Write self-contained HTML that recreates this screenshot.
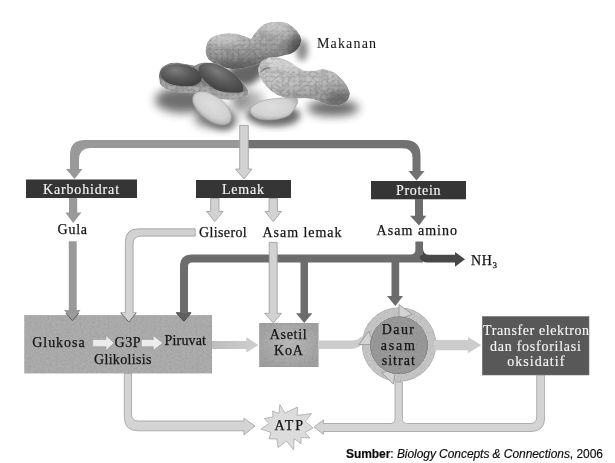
<!DOCTYPE html>
<html><head><meta charset="utf-8">
<style>
html,body{margin:0;padding:0;background:#fff;width:615px;height:463px;overflow:hidden}
svg{display:block;filter:blur(0.3px)}
.t{font-family:"Liberation Serif",serif;font-size:14px;fill:#141414;stroke:#141414;stroke-width:0.25}
.w{font-family:"Liberation Serif",serif;font-size:14px;fill:#f4f4f4;stroke:#f4f4f4;stroke-width:0.15}
.cap{font-family:"Liberation Sans",sans-serif;font-size:12px;fill:#0a0a0a;stroke:#0a0a0a;stroke-width:0.15}
</style></head>
<body>
<svg width="615" height="463" viewBox="0 0 615 463">
<defs>
  <filter id="b5" x="-50%" y="-50%" width="200%" height="200%"><feGaussianBlur stdDeviation="5"/></filter>
  <filter id="b3" x="-50%" y="-50%" width="200%" height="200%"><feGaussianBlur stdDeviation="3"/></filter>
  <filter id="b2" x="-50%" y="-50%" width="200%" height="200%"><feGaussianBlur stdDeviation="2"/></filter>
  <filter id="b1" x="-20%" y="-20%" width="140%" height="140%"><feGaussianBlur stdDeviation="1"/></filter>
  <filter id="b06" x="-20%" y="-20%" width="140%" height="140%"><feGaussianBlur stdDeviation="0.6"/></filter>
  <filter id="tex" x="0" y="0" width="100%" height="100%" color-interpolation-filters="sRGB">
    <feTurbulence type="fractalNoise" baseFrequency="0.5" numOctaves="2" seed="3" result="n"/>
    <feColorMatrix in="n" type="matrix" values="0.33 0.33 0.33 0 0  0.33 0.33 0.33 0 0  0.33 0.33 0.33 0 0  0 0 0 0 1" result="g"/>
    <feComponentTransfer in="g" result="m"><feFuncR type="linear" slope="0.25" intercept="0.85"/><feFuncG type="linear" slope="0.25" intercept="0.85"/><feFuncB type="linear" slope="0.25" intercept="0.85"/></feComponentTransfer>
    <feBlend in="SourceGraphic" in2="m" mode="multiply" result="bl"/>
    <feComposite in="bl" in2="SourceGraphic" operator="in"/>
  </filter>
  <filter id="ptex" x="-10%" y="-10%" width="120%" height="120%" color-interpolation-filters="sRGB">
    <feTurbulence type="turbulence" baseFrequency="0.18 0.22" numOctaves="2" seed="11" result="n"/>
    <feColorMatrix in="n" type="matrix" values="0.33 0.33 0.33 0 0  0.33 0.33 0.33 0 0  0.33 0.33 0.33 0 0  0 0 0 0 1" result="g"/>
    <feComponentTransfer in="g" result="m"><feFuncR type="table" tableValues="0.78 0.97 1.06 1.1"/><feFuncG type="table" tableValues="0.78 0.97 1.06 1.1"/><feFuncB type="table" tableValues="0.78 0.97 1.06 1.1"/></feComponentTransfer>
    <feGaussianBlur in="m" stdDeviation="0.55" result="mb"/>
    <feBlend in="SourceGraphic" in2="mb" mode="multiply" result="bl"/>
    <feComposite in="bl" in2="SourceGraphic" operator="in" result="c"/>
  </filter>
</defs>

<g id="peanuts">
  <defs>
    <linearGradient id="bpg" x1="0" y1="0" x2="0.15" y2="1">
      <stop offset="0" stop-color="#cacaca"/><stop offset="0.5" stop-color="#b0b0b0"/><stop offset="1" stop-color="#767676"/>
    </linearGradient>
    <linearGradient id="rpg" x1="0" y1="0" x2="0.3" y2="1">
      <stop offset="0" stop-color="#d6d6d6"/><stop offset="0.6" stop-color="#c2c2c2"/><stop offset="1" stop-color="#999999"/>
    </linearGradient>
    <radialGradient id="kg" cx="0.35" cy="0.3" r="0.75">
      <stop offset="0" stop-color="#7c7c7c"/><stop offset="0.5" stop-color="#595959"/><stop offset="1" stop-color="#3e3e3e"/>
    </radialGradient>
  </defs>
  <defs><radialGradient id="kl" cx="0.45" cy="0.4" r="0.6"><stop offset="0" stop-color="#dedede"/><stop offset="0.7" stop-color="#d2d2d2"/><stop offset="1" stop-color="#b0b0b0"/></radialGradient></defs>
  <!-- soft shadows -->
  <ellipse cx="273" cy="115" rx="27" ry="10" fill="#505050" filter="url(#b3)" opacity="0.8"/>
  <ellipse cx="214" cy="113" rx="23" ry="12" fill="#505050" filter="url(#b3)" opacity="0.75" transform="rotate(37 214 113)"/>
  <ellipse cx="240" cy="100" rx="9" ry="12" fill="#7a7a7a" filter="url(#b5)" opacity="0.7"/>
  <ellipse cx="183" cy="100" rx="28" ry="13" fill="#606060" filter="url(#b5)" opacity="0.9"/>
  <ellipse cx="216" cy="119" rx="22" ry="9" fill="#707070" filter="url(#b5)" opacity="0.8"/>
  <path d="M228 66 Q250 64 262 56 L270 62 Q262 80 248 86 L232 84Z" fill="#555" filter="url(#b3)" opacity="0.9"/>
  <ellipse cx="302" cy="50" rx="6" ry="11" fill="#707070" filter="url(#b3)" opacity="0.8"/>
  <ellipse cx="333" cy="108" rx="26" ry="8" fill="#5a5a5a" filter="url(#b5)" opacity="0.9"/>
  <ellipse cx="276" cy="118" rx="22" ry="7" fill="#6a6a6a" filter="url(#b5)" opacity="0.8"/>
  <ellipse cx="250" cy="100" rx="14" ry="10" fill="#888" filter="url(#b5)" opacity="0.6"/>
  <!-- back peanut -->
  <path d="M205.7 50 Q206 41 212 37 Q222 32 235 33.5 Q246 36 251 39 Q256 30 264 24 Q275 20 287 23 Q299 29 301.5 40 Q300 50 290 54 Q276 57 262 62 Q250 68 234 69.2 Q216 67 208 59 Q205 54 205.7 50Z" fill="url(#bpg)" filter="url(#ptex)"/>
  <clipPath id="bpc"><path d="M205.7 50 Q206 41 212 37 Q222 32 235 33.5 Q246 36 251 39 Q256 30 264 24 Q275 20 287 23 Q299 29 301.5 40 Q300 50 290 54 Q276 57 262 62 Q250 68 234 69.2 Q216 67 208 59 Q205 54 205.7 50Z"/></clipPath>
  <g clip-path="url(#bpc)">
    <ellipse cx="300" cy="50" rx="12" ry="16" fill="#444" filter="url(#b5)" opacity="0.85"/>
    <ellipse cx="240" cy="70" rx="30" ry="8" fill="#555" filter="url(#b3)" opacity="0.6"/>
    <ellipse cx="225" cy="38" rx="16" ry="6" fill="#ddd" filter="url(#b3)" opacity="0.5"/>
    <ellipse cx="275" cy="27" rx="14" ry="5" fill="#ddd" filter="url(#b3)" opacity="0.5"/>
  </g>
  <!-- right whole peanut -->
  <path d="M258 70 Q259 62 264.3 59.7 Q270 56 277 57.2 Q286 59 291 62.5 Q298 68 303.7 70.6 Q312 71 316.2 70.6 Q322 68 327 69.7 Q336 72 339.4 76.8 Q347 83 350 93 Q349 101 343 103.7 Q337 106 330.5 105.5 Q322 103 316 100 Q310 98 303.7 98.3 Q295 99 289 98.3 Q281 97 276.8 94.7 Q270 91 266 85.8 Q260 80 258 70Z" fill="url(#rpg)" filter="url(#ptex)"/>
  <clipPath id="rpc"><path d="M258 70 Q259 62 264.3 59.7 Q270 56 277 57.2 Q286 59 291 62.5 Q298 68 303.7 70.6 Q312 71 316.2 70.6 Q322 68 327 69.7 Q336 72 339.4 76.8 Q347 83 350 93 Q349 101 343 103.7 Q337 106 330.5 105.5 Q322 103 316 100 Q310 98 303.7 98.3 Q295 99 289 98.3 Q281 97 276.8 94.7 Q270 91 266 85.8 Q260 80 258 70Z"/></clipPath>
  <g clip-path="url(#rpc)">
    <ellipse cx="340" cy="100" rx="14" ry="8" fill="#555" filter="url(#b3)" opacity="0.6"/>
    <ellipse cx="285" cy="64" rx="18" ry="5" fill="#e6e6e6" filter="url(#b3)" opacity="0.5"/>
  </g>
  <path d="M261 72 Q265 67 270 68" fill="none" stroke="#777" stroke-width="1.2" filter="url(#b06)"/>
  <!-- open shell -->
  <path d="M159 74.7 Q160 68 164.3 65.6 Q170 62 176.8 62.6 Q186 64 194.7 65.6 Q199 63 203.7 62.6 Q212 62 218 63.8 Q225 67 230.5 71.9 Q240 79 244.8 85.3 Q249 90 248.4 93.5 Q246 98 239.4 98.8 Q230 99 221.6 98 Q212 95 207.2 90.8 Q200 90 194.7 91.7 Q185 92 176.8 90.8 Q168 89 162.5 85.4 Q158 80 159 74.7Z" fill="#8e8e8e" filter="url(#ptex)"/>
  <ellipse cx="181" cy="75.5" rx="21" ry="11" fill="url(#kg)" transform="rotate(8 181 75.5)"/>
  <ellipse cx="221" cy="79" rx="25" ry="11.5" fill="url(#kg)" transform="rotate(30 221 79)"/>
  <path d="M160 80 Q172 88 192 86.5 Q202 85 208 87 Q220 94 240 93 Q246 92 248 90 Q249 96 242 98.8 Q230 100 221.6 99 Q212 96 207.2 91.8 Q200 91 194.7 92.2 Q185 93 176.8 91.8 Q166 90 161.5 85.4 Q159 83 160 80Z" fill="#adadad" stroke="#7a7a7a" stroke-width="0.5" filter="url(#ptex)"/>
  <!-- loose kernels -->
  <ellipse cx="212" cy="108.3" rx="22.5" ry="12" fill="url(#kl)" stroke="#a0a0a0" stroke-width="0.6" transform="rotate(37 212 108.3)" filter="url(#b06)"/>
  <path d="M250.5 108.5 Q257 101 268 99.5 Q282 97.5 294.7 97.5 Q299 99 297.4 103 Q294 111 289 115.5 Q280 120 268 120 Q257 120 252.6 115.4 Q249 112 250.5 108.5Z" fill="url(#kl)" stroke="#a0a0a0" stroke-width="0.6" filter="url(#b06)"/>
</g>

<text class="t" x="317" y="48" letter-spacing="1.15" style="stroke-width:0.05">Makanan</text>
<path d="M74.5 179 L66 169 L70 169 L70 155 Q70 140 85 140 L241 140 L241 148 L91 148 Q79 148 79 160 L79 169 L82.5 169 Z" fill="#999999"/>
<path d="M247 140 L405 140 Q420.5 140 420.5 155.5 L420.5 171 L424.5 171 L416.5 180.5 L408.5 171 L412.5 171 L412.5 158 Q412.5 148.2 402.5 148.2 L247 148.2 Z" fill="#727272"/>
<path d="M239.7 125.4 L248.3 125.4 L248.3 169 L252 169 L244.0 179 L235.5 169 L239.7 169 Z" fill="#d2d2d2" stroke="#9a9a9a" stroke-width="0.8" stroke-linejoin="round"/>
<rect x="26" y="179.5" width="111" height="18.5" fill="#353535"/>
<rect x="196" y="180" width="95" height="18" fill="#353535"/>
<rect x="371" y="181" width="95" height="18.3" fill="#353535"/>
<text class="w" x="43" y="193.5" letter-spacing="0.84">Karbohidrat</text>
<text class="w" x="222" y="194" letter-spacing="0.78">Lemak</text>
<text class="w" x="396" y="194.5" letter-spacing="0.68">Protein</text>
<path d="M69 198 L77.2 198 L77.2 212.4 L81.5 212.4 L73.1 223 L65.4 212.4 L69 212.4 Z" fill="#999999"/>
<path d="M210.7 198.5 L219 198.5 L219 211.5 L223 211.5 L214.85 221.6 L206.5 211.5 L210.7 211.5 Z" fill="#d2d2d2" stroke="#9a9a9a" stroke-width="0.8" stroke-linejoin="round"/>
<path d="M269 198.5 L277.5 198.5 L277.5 211.5 L281.5 211.5 L273.25 221.6 L265 211.5 L269 211.5 Z" fill="#d2d2d2" stroke="#9a9a9a" stroke-width="0.8" stroke-linejoin="round"/>
<path d="M415 199 L423 199 L423 215.7 L426.3 215.7 L419.0 225.5 L410 215.7 L415 215.7 Z" fill="#6c6c6c"/>
<text class="t" x="57.6" y="233.5" letter-spacing="0.73">Gula</text>
<text class="t" x="199" y="236.8" letter-spacing="0.37">Gliserol</text>
<text class="t" x="262.5" y="236.8" letter-spacing="0.96">Asam lemak</text>
<text class="t" x="376.6" y="234.8" letter-spacing="1.03">Asam amino</text>
<path d="M68.8 241.3 L76.7 241.3 L76.7 310 L80.5 310 L72.75 320.5 L64 310 L68.8 310 Z" fill="#999999"/>
<path d="M195.2 228.8 L195.2 236.1 L141 236.1 Q133.1 236.1 133.1 244 L133.1 312.7 L136.3 312.7 L128.5 322.8 L120.6 312.7 L125.4 312.7 L125.4 242 Q125.4 228.8 138.6 228.8 Z" fill="#d2d2d2" stroke="#9a9a9a" stroke-width="0.8"/>
<path d="M183.8 321.5 L175.6 312 L180 312 L180 266.5 Q180 254.6 192 254.6 L410.4 254.6 Q415.4 254.6 415.4 249.6 L415.4 241.5 L423 241.5 L423 262.5 L192 262.5 Q188 262.5 188 266.5 L188 312 L191.6 312 Z" fill="#6c6c6c"/>
<path d="M300.5 262 L308 262 L308 313.3 L312.3 313.3 L304.25 323 L296 313.3 L300.5 313.3 Z" fill="#6c6c6c"/>
<path d="M391.5 262 L399.2 262 L399.2 296 L403 296 L395.35 306 L387 296 L391.5 296 Z" fill="#6c6c6c"/>
<path d="M423 248.5 Q423 254.8 429.5 254.8 L455 254.8 L455 252 L465 259.3 L455 266.7 L455 262.6 L428 262.6 Q420.5 262.6 419.5 256 L423 254.8 Z" fill="#474747"/>
<text class="t" x="471" y="264.5" letter-spacing="0.6">NH<tspan font-size="9" dy="3.5">3</tspan></text>
<path d="M269.2 242.4 L277.2 242.4 L277.2 313.3 L281.5 313.3 L273.2 323 L264.7 313.3 L269.2 313.3 Z" fill="#d2d2d2" stroke="#9a9a9a" stroke-width="0.8" stroke-linejoin="round"/>
<rect x="24.5" y="315.2" width="187.5" height="58" fill="#aeaeae" stroke="#9a9a9a" stroke-width="0.6" filter="url(#tex)"/>
<path d="M65.8 313 L72.3 320.7 L78.8 313" fill="#9c9c9c" stroke="#5a5a5a" stroke-width="1"/>
<path d="M121 313 L128.8 322 L136 313" fill="#d2d2d2" stroke="#6a6a6a" stroke-width="1"/>
<path d="M176.5 313 L183.8 321.3 L191 313" fill="#606060" stroke="#4a4a4a" stroke-width="1"/>
<text class="t" x="32.2" y="346.6" letter-spacing="0.97">Glukosa</text>
<path d="M92.7 339.5 L106 339.5 L106 335.5 L114 343 L106 350.5 L106 346.7 L92.7 346.7 Z" fill="#ececec" stroke="#999" stroke-width="0.6"/>
<text class="t" x="114.5" y="346.6" letter-spacing="0.6">G3P</text>
<path d="M141.3 339.5 L153.3 339.5 L153.3 335.5 L162.7 343 L153.3 350.5 L153.3 346.7 L141.3 346.7 Z" fill="#ececec" stroke="#999" stroke-width="0.6"/>
<text class="t" x="164.6" y="345.4" letter-spacing="0.16">Piruvat</text>
<text class="t" x="94" y="364.4" letter-spacing="0.32">Glikolisis</text>
<defs><linearGradient id="g1" x1="0" x2="1"><stop offset="0" stop-color="#bdbdbd"/><stop offset="1" stop-color="#cfcfcf"/></linearGradient></defs>
<path d="M212 341 L246.3 341 L246.3 337.2 L258.5 345 L246.3 352.5 L246.3 349 L212 349 Z" fill="url(#g1)"/>
<defs><radialGradient id="acg" cx="0.5" cy="0.45" r="0.6"><stop offset="0" stop-color="#bcbcbc"/><stop offset="1" stop-color="#a2a2a2"/></radialGradient></defs>
<rect x="259.3" y="323" width="59" height="44" fill="url(#acg)" stroke="#9a9a9a" stroke-width="0.6" filter="url(#tex)"/>
<path d="M266 323 L281 323 L273.5 322.8 Z" fill="#d2d2d2"/>
<path d="M264.5 322.8 L282 322.8 L273.5 322.8 Z" fill="#d2d2d2"/>
<text class="t" x="269.7" y="339" letter-spacing="0.71">Asetil</text>
<text class="t" x="274" y="355" letter-spacing="0.79">KoA</text>
<path d="M318 340.5 L352 340.5 Q358 340.5 362 336 L366 340 Q360 349 350 349 L318 349 Z" fill="#cccccc"/>
<circle cx="399" cy="344.5" r="37" fill="#c8c8c8" stroke="#a8a8a8" stroke-width="0.8" filter="url(#tex)"/>
<path d="M399.0 319.0 L399.0 304.5 L412.4 314.4 Z" fill="#d2d2d2" stroke="#939393" stroke-width="0.8" stroke-linejoin="round"/>
<path d="M373.5 344.5 L359.0 344.5 L368.9 331.1 Z" fill="#d2d2d2" stroke="#939393" stroke-width="0.8" stroke-linejoin="round"/>
<path d="M395.5 369.8 L393.4 384.1 L381.5 372.5 Z" fill="#d2d2d2" stroke="#939393" stroke-width="0.8" stroke-linejoin="round"/>
<circle cx="399" cy="345.3" r="28.8" fill="#9b9b9b" stroke="#6e6e6e" stroke-width="0.8" filter="url(#tex)"/>
<text class="t" x="381.7" y="334" letter-spacing="1.44">Daur</text>
<text class="t" x="380.8" y="349.7" letter-spacing="1.74">asam</text>
<text class="t" x="381.7" y="365" letter-spacing="1.02">sitrat</text>
<path d="M434 340 L468 340 L468 337 L481.2 345 L468 353.2 L468 350.2 L434 350.2 Z" fill="#cccccc"/>
<rect x="482.3" y="316.5" width="106.7" height="58.5" fill="#585858" stroke="#777" stroke-width="0.6"/>
<text class="w" x="483" y="335" letter-spacing="0.61">Transfer elektron</text>
<text class="w" x="490" y="351.4" letter-spacing="0.74">dan fosforilasi</text>
<text class="w" x="507.3" y="366" letter-spacing="1.0">oksidatif</text>
<path d="M124.3 373.5 L131.5 373.5 L131.5 414 Q131.5 421 138.5 421 L244 421 L244 418.3 L255 426 L244 435 L244 430.8 L138 430.8 Q124.3 430.8 124.3 417 Z" fill="#d4d4d4" stroke="#a0a0a0" stroke-width="0.8"/>
<path d="M536.7 375.3 L544.6 375.3 L544.6 418 Q544.6 431.5 531 431.5 L323.4 431.5 L323.4 434.4 L314 427 L323.4 419.8 L323.4 423.5 L391 423.5 Q395 423.5 395 419.5 L395 382 L402.4 382 L402.4 419.5 Q402.4 423.5 406.4 423.5 L530 423.5 Q536.7 423.5 536.7 417 Z" fill="#d4d4d4" stroke="#a0a0a0" stroke-width="0.8"/>
<path d="M279.8 404.6 L285 413 L297.7 407 L297 415.5 L311.5 413.6 L305.5 421.5 L313 428 L305 432.5 L310 438 L301 437.5 L301 443.7 L294 438.5 L293.7 450 L286.5 441 L278 447.7 L277 439 L269 438.8 L271 432.5 L261 429 L269 423.5 L264.4 418.5 L273 417 L272.5 411 L279 413.5 Z" fill="#dcdcdc" stroke="#a8a8a8" stroke-width="0.8"/>
<text class="t" x="274.5" y="430" letter-spacing="1.8">ATP</text>
<text class="cap" x="346" y="458" letter-spacing="-0.06"><tspan font-weight="bold">Sumber</tspan>: <tspan font-style="italic">Biology Concepts &amp; Connections</tspan>, 2006</text>
</svg></body></html>
